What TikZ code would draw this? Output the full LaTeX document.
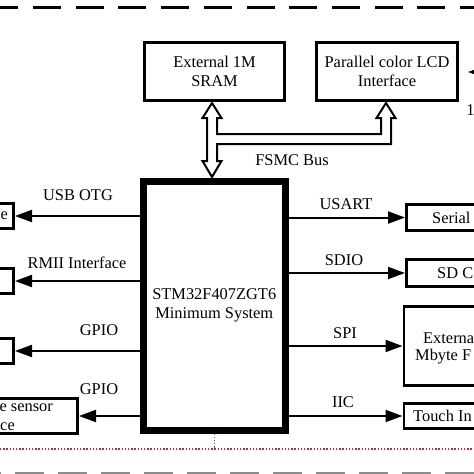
\documentclass[tikz,border=0pt]{standalone}
\usepackage{fontspec}
\setmainfont{Liberation Serif}
\usetikzlibrary{arrows.meta}
\definecolor{dotred}{RGB}{200,40,40}
\definecolor{dashgray}{RGB}{140,140,140}
\begin{document}
\begin{tikzpicture}[x=1pt,y=-1pt,
  every node/.style={font=\fontsize{16.4}{19}\selectfont},
  box/.style={draw,line width=2.6pt,rectangle,inner sep=0pt,align=center},
  lbl/.style={inner sep=0pt},
  arr/.style={line width=2pt,-{Triangle[length=17pt,width=12pt]}},
  topdash/.style={line width=3pt,dash pattern=on 28pt off 14.7pt},
  botdash/.style={line width=2.5pt,color=dashgray,dash pattern=on 29pt off 14pt},
  reddot/.style={line width=1.5pt,color=dotred,dash pattern=on 1.3pt off 1.9pt},
  busarrow/.style={line width=2pt,fill=white,line join=miter}]
\useasboundingbox (0,0) rectangle (474,474);
\clip (0,0) rectangle (474,474);

% frame lines
\draw[topdash] (-9.7,7) -- (490,7);
\draw[botdash] (-28,473) -- (490,473);
\draw[reddot] (0,449) -- (474,449);

% main MCU
\node[box,line width=7pt,minimum width=142.5pt,minimum height=248.5pt] (mcu) at (214.25,305.75) {STM32F407ZGT6\\Minimum System};
\coordinate (redbus) at (214.25,449);
\draw[reddot] (mcu.south) -- (redbus);

% top boxes
\node[box,minimum width=140.4pt,minimum height=58.4pt] (sram) at (214.5,71.5) {External 1M\\SRAM};
\node[box,minimum width=141.4pt,minimum height=58.4pt] (lcd) at (387,71.5) {Parallel color LCD\\Interface};

% FSMC bus hollow arrows
\draw[busarrow] (212,103) -- (221.5,118) -- (217,118) -- (217,134) -- (381,134) -- (381,118)
  -- (376.5,118) -- (386,103) -- (395.5,118) -- (391,118) -- (391,144) -- (217,144)
  -- (217,161) -- (221.5,161) -- (212,177) -- (202.5,161) -- (207,161) -- (207,118)
  -- (202.5,118) -- cycle;
\node[lbl] (fsmc) at (292,160) {FSMC Bus};

% left boxes
\node[box,minimum width=40pt,minimum height=25.4pt,anchor=east] (usb) at (15,216) {};
\node[lbl,anchor=east] (usbt) at (8,216) {e};
\node[box,minimum width=40pt,minimum height=25.4pt,anchor=east] (rmii) at (15,281) {};
\node[box,minimum width=40pt,minimum height=25.4pt,anchor=east] (gpio) at (15,351) {};
\node[box,minimum width=100pt,minimum height=35.4pt,anchor=east] (sens) at (79,416) {};
\node[lbl,anchor=east] (senst1) at (53,408) {e sensor};
\node[lbl,anchor=east] (senst2) at (15,427) {ce};

\draw[arr] (mcu.west |- usb.east) -- (usb.east);
\draw[arr] (mcu.west |- rmii.east) -- (rmii.east);
\draw[arr] (mcu.west |- gpio.east) -- (gpio.east);
\draw[arr] (mcu.west |- sens.east) -- (sens.east);
\node[lbl] (l1) at (78,195) {USB OTG};
\node[lbl] (l2) at (77,263) {RMII Interface};
\node[lbl] (l3) at (99,330) {GPIO};
\node[lbl] (l4) at (99,389) {GPIO};

% right boxes
\node[box,minimum width=100pt,minimum height=26.4pt,anchor=west] (serial) at (405,217.5) {};
\node[lbl,anchor=west] (serialt) at (432,218) {Serial};
\node[box,minimum width=100pt,minimum height=27.4pt,anchor=west] (sd) at (405,273) {};
\node[lbl,anchor=west] (sdt) at (437,273) {SD C};
\node[box,minimum width=100pt,minimum height=79.4pt,anchor=west] (flash) at (402.5,346) {};
\node[lbl,anchor=west] (flasht1) at (423,338) {Externa};
\node[lbl,anchor=west] (flasht2) at (415,357) {Mbyte F};
\node[box,minimum width=100pt,minimum height=25.4pt,anchor=west] (touch) at (402.5,416) {};
\node[lbl,anchor=west] (toucht) at (413,416) {Touch In};

\draw[arr] (mcu.east |- serial.west) -- (serial.west);
\draw[arr] (mcu.east |- sd.west) -- (sd.west);
\draw[arr] (mcu.east |- flash.west) -- (flash.west);
\draw[arr] (mcu.east |- touch.west) -- (touch.west);
\node[lbl] (r1) at (346,204) {USART};
\node[lbl] (r2) at (344,260) {SDIO};
\node[lbl] (r3) at (345,333) {SPI};
\node[lbl] (r4) at (343,402) {IIC};

% partial items at right edge
\coordinate (lcdin) at (468,72);
\coordinate (lcdfrom) at (490,72);
\draw[arr] (lcdfrom) -- (lcdin);
\node[lbl] (one) at (470.5,110) {1};
\end{tikzpicture}
\end{document}
